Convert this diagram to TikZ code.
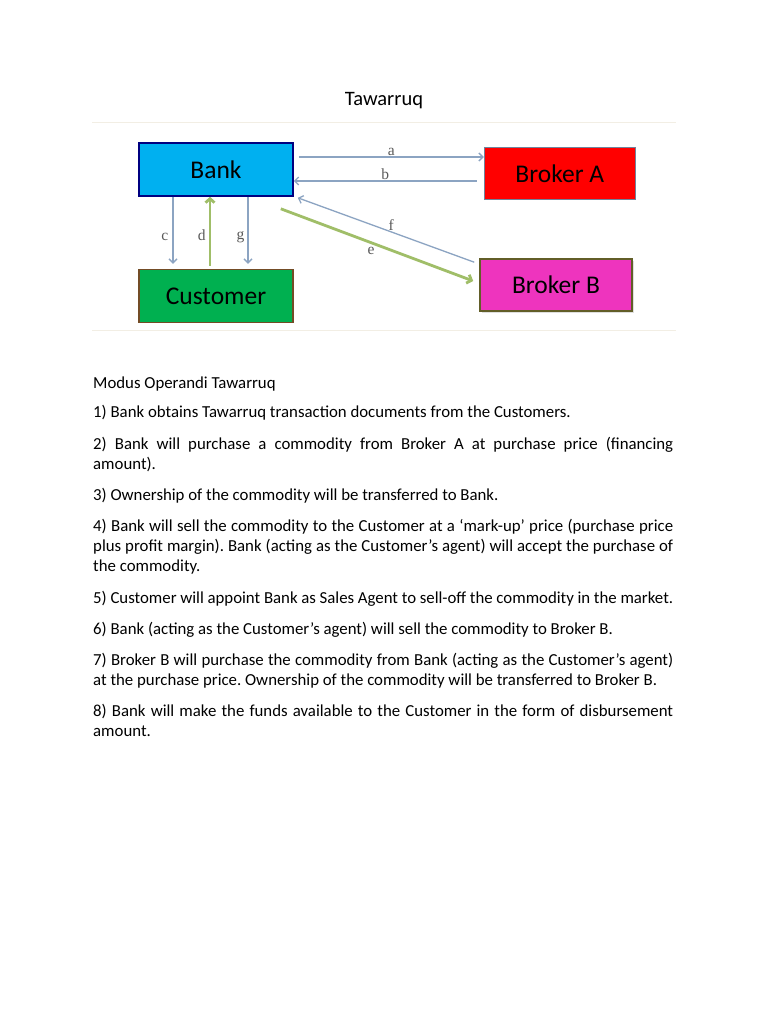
\documentclass[tikz,border=0pt]{standalone}
\usepackage{fontspec}
\setmainfont{Carlito}
\newfontfamily\labelfont{Liberation Serif}
\usetikzlibrary{positioning, calc, shadows, arrows.meta}
\frenchspacing

\definecolor{bankblue}{RGB}{0,176,240}
\definecolor{brokerred}{RGB}{255,0,0}
\definecolor{custgreen}{RGB}{0,176,80}
\definecolor{brokerpink}{RGB}{238,52,190}
\definecolor{linkblue}{RGB}{140,164,194}
\definecolor{linkgreen}{RGB}{160,190,104}
\definecolor{framebeige}{RGB}{242,238,228}

\begin{document}
\begin{tikzpicture}[
    x=1pt, y=-1pt,
    party/.style={rectangle, minimum width=154pt, minimum height=53pt, inner sep=0pt, font=\fontsize{25.5}{30}\selectfont},
    link/.style={-{Straight Barb[length=4pt, width=8pt]}, draw=linkblue, line width=1.3pt},
    pay/.style={-{Straight Barb[length=4pt, width=9pt]}, draw=linkgreen, line width=2.8pt},
    tag/.style={font=\labelfont\fontsize{15.5}{15.5}\selectfont, text=black!65, inner sep=1pt},
    para/.style={anchor=north west, text width=580pt, align=justify, inner sep=0pt, font=\fontsize{16.8}{20}\selectfont}
]
    % Page
    \fill[white] (0,0) rectangle (768,1024);
    \node[font=\fontsize{20.5}{24}\selectfont] (title) at (384,101) {Tawarruq};

    % Frame of the figure
    \draw[framebeige, line width=1pt] (92,123) -- (676,123);
    \draw[framebeige, line width=1pt] (92,330) -- (676,330);

    % Nodes
    \node[party, fill=bankblue, draw=blue!50!black, line width=1.6pt] (bank) at (216,169.5) {Bank};
    \node[party, fill=custgreen, draw=brown!60!black, line width=1.4pt, below=72pt of bank] (customer) {Customer};
    \node[party, fill=brokerred, draw=linkblue!80!black, line width=1pt, right=190pt of bank, yshift=-4.5pt, minimum width=151pt, minimum height=52pt] (brokerA) {Broker A};
    \node[party, fill=brokerpink, draw=olive!60!black, line width=1.6pt, minimum width=152pt, minimum height=52pt,
          drop shadow={shadow xshift=2pt, shadow yshift=-2pt, opacity=0.25}] (brokerB) at (556,285) {Broker B};

    % Bank and Broker A
    \draw[link] ([xshift=5pt, yshift=12.5pt]bank.east) -- node[tag, above] {a} ([yshift=12.5pt]bank.east -| brokerA.west);
    \draw[link] ([xshift=-7pt, yshift=-11.5pt]bank.east -| brokerA.west) -- node[tag, above] {b} ([yshift=-11.5pt]bank.east);

    % Bank and Customer
    \draw[link] ([xshift=-43pt]bank.south) -- node[tag, left=3pt, pos=0.6] {c} ([xshift=-43pt, yshift=5pt]customer.north);
    \draw[pay] ([xshift=-6pt, yshift=3pt]customer.north) -- node[tag, left=2pt, pos=0.45] {d} ([xshift=-6pt]bank.south);
    \draw[link] ([xshift=32pt]bank.south) -- node[tag, left=2pt, pos=0.6] {g} ([xshift=32pt, yshift=5pt]customer.north);

    % Bank and Broker B
    \draw[link] ([xshift=-5pt, yshift=-4pt]brokerB.north west) -- node[tag, above, pos=0.47] {f} ([xshift=4pt, yshift=-1pt]bank.south east);
    \draw[pay] ([xshift=-13pt, yshift=-12pt]bank.south east) -- node[tag, below left, pos=0.5] {e} ([xshift=-6pt, yshift=4pt]brokerB.west);

    % Text
    \node[para] (head) at (93,377) {Modus Operandi Tawarruq};
    \node[para] (step1) at (93,405) {1) Bank obtains Tawarruq transaction documents from the Customers.};
    \node[para] (step2) at (93,437) {2) Bank will purchase a commodity from Broker A at purchase price (financing\linebreak amount).};
    \node[para] (step3) at (93,488) {3) Ownership of the commodity will be transferred to Bank.};
    \node[para] (step4) at (93,519) {4) Bank will sell the commodity to the Customer at a ‘mark-up’ price (purchase price\linebreak plus profit margin). Bank (acting as the Customer’s agent) will accept the purchase of\linebreak the commodity.};
    \node[para] (step5) at (93,591) {5) Customer will appoint Bank as Sales Agent to sell-off the commodity in the market.};
    \node[para] (step6) at (93,622) {6) Bank (acting as the Customer’s agent) will sell the commodity to Broker B.};
    \node[para] (step7) at (93,653) {7) Broker B will purchase the commodity from Bank (acting as the Customer’s agent)\linebreak at the purchase price. Ownership of the commodity will be transferred to Broker B.};
    \node[para] (step8) at (93,704) {8) Bank will make the funds available to the Customer in the form of disbursement\linebreak amount.};

    \useasboundingbox (0,0) rectangle (768,1024);
\end{tikzpicture}
\end{document}
